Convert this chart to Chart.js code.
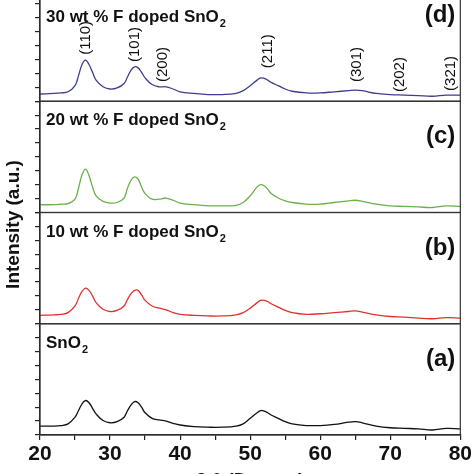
<!DOCTYPE html>
<html><head><meta charset="utf-8">
<script src="https://cdn.jsdelivr.net/npm/chart.js@4"></script>
<style>html,body{margin:0;padding:0;background:#fff;overflow:hidden}#w{position:absolute;top:-12px;left:0;width:474px;height:508px}</style>
</head><body><div id="w"><canvas id="c"></canvas></div>
<script>
const twoTheta=[20,22,23,24,25,25.5,26,26.5,27,27.5,28,29,30,31,32,32.5,33,33.5,34,34.5,35,36,37,38,39,40,42,44,46,48,49,50,51,51.5,52,52.5,53,54,55,56,58,60,62,64,65,66,68,70,72,74,76,78,80];
const sno2=[.8,.8,.85,1.0,1.6,2.2,2.8,3.1,2.9,2.4,1.9,1.3,1.1,1.2,1.6,2.2,2.7,3.0,2.9,2.5,2.0,1.5,1.35,1.25,1.05,.9,.75,.7,.7,.8,1.0,1.5,2.0,2.2,2.15,2.0,1.8,1.5,1.2,1.0,.85,.85,.95,1.15,1.2,1.1,.8,.65,.6,.55,.45,.6,.55];
const f10=[.75,.8,.85,1.0,1.6,2.3,2.9,3.2,3.0,2.5,1.9,1.3,1.1,1.2,1.6,2.2,2.7,3.0,3.0,2.6,2.1,1.6,1.4,1.25,1.0,.85,.75,.7,.7,.8,1.0,1.4,1.9,2.1,2.1,2.0,1.8,1.5,1.2,1.0,.85,.9,1.0,1.1,1.15,1.05,.8,.65,.6,.5,.45,.55,.5];
const f20=[.7,.7,.75,.8,1.2,2.2,3.4,3.9,3.3,2.3,1.5,1.0,.85,.9,1.3,2.2,2.9,3.2,3.0,2.3,1.7,1.2,1.2,1.3,1.1,.85,.7,.6,.6,.65,.9,1.5,2.3,2.5,2.4,2.1,1.7,1.3,1.05,.9,.75,.75,.9,1.05,1.1,1.0,.75,.6,.55,.5,.45,.6,.55];
const f30=[.65,.7,.75,.85,1.4,2.3,3.3,3.7,3.3,2.6,1.9,1.3,1.1,1.2,1.6,2.2,2.8,3.1,3.0,2.6,2.1,1.5,1.3,1.3,1.1,.85,.7,.6,.6,.7,.95,1.4,1.9,2.1,2.05,1.9,1.7,1.4,1.1,.9,.75,.75,.85,.95,1.0,.95,.7,.6,.55,.5,.45,.55,.55];
const panelNames=["30 wt % F doped SnO","20 wt % F doped SnO","10 wt % F doped SnO","SnO"];
const panelTags=["(d)","(c)","(b)","(a)"];
const peakLabels=["(110)","(101)","(200)","(211)","(301)","(202)","(321)"];
const peakX=[26.5,33.6,37.6,52.5,65.2,71.3,78.6];
const peakY=[5.7,5.1,3.3,4.5,3.3,2.4,2.5];
const xTicks=[20,30,40,50,60,70,80];

const mk=(arr)=>arr.map((v,i)=>({x:twoTheta[i],y:v}));
const series=[f30,f20,f10,sno2];
const colors=["#3d3d8f","#6ab04c","#e0322d","#111111"];
const axisIds=["yd","yc","yb","ya"];
const scales={x:{type:'linear',min:20,max:80,afterBuildTicks:s=>{s.ticks=[];for(let v=20;v<=80;v+=5)s.ticks.push({value:v});},
  ticks:{callback:v=>xTicks.includes(v)?v:'',color:'#111',font:{family:'Liberation Sans',size:21,weight:'bold'},maxRotation:0,padding:2,autoSkip:false},
  grid:{drawOnChartArea:false,color:'#222',tickLength:5,lineWidth:1.2},border:{color:'#222',width:1.2},
  title:{display:true,text:'2 θ (Degree)',color:'#111',font:{family:'Liberation Sans',size:19,weight:'bold'},padding:{top:0}}}};
axisIds.slice().reverse().forEach((id)=>{scales[id]={type:'linear',min:0,max:10,stack:'p',stackWeight:1,offset:false,position:'left',
  ticks:{display:false,stepSize:1.25},grid:{drawOnChartArea:false,color:'#222',tickLength:5,lineWidth:1.2},border:{color:'#222',width:1.2}};});
const labelPlugin={id:'lbl',afterDraw(ch){const c=ch.ctx,xs=ch.scales.x,a=ch.chartArea;c.save();
  axisIds.forEach((id,k)=>{const s=ch.scales[id];c.strokeStyle='#333';c.lineWidth=1.2;c.strokeRect(a.left,s.top,a.right-a.left,s.bottom-s.top);
    c.fillStyle='#111';c.textBaseline='alphabetic';c.textAlign='left';c.font='bold 17px "Liberation Sans"';
    const ty=s.top+ (k===0?32:24);c.fillText(panelNames[k],a.left+6,ty);const w=c.measureText(panelNames[k]).width;
    c.font='bold 11px "Liberation Sans"';c.fillText('2',a.left+6+w+1,ty+5);
    c.font='bold 24px "Liberation Sans"';c.textAlign='right';c.fillText(panelTags[k],a.right-5,s.top+(k===0?32:42));});
  const sd=ch.scales.yd;c.font='15px "Liberation Sans"';c.textAlign='center';c.textBaseline='middle';
  peakLabels.forEach((t,i)=>{c.save();c.translate(xs.getPixelForValue(peakX[i]),sd.getPixelForValue(peakY[i]));c.rotate(-Math.PI/2);c.fillText(t,0,0);c.restore();});
  c.font='bold 19px "Liberation Sans"';c.save();c.translate(14,(ch.scales.yd.top+ch.scales.ya.bottom)/2+12);c.rotate(-Math.PI/2);c.fillText('Intensity (a.u.)',0,0);c.restore();
  c.restore();}};
new Chart(document.getElementById('c'),{type:'line',
  data:{datasets:series.map((s,k)=>({data:mk(s),yAxisID:axisIds[k],borderColor:colors[k],borderWidth:1.3,pointRadius:0,tension:0.4,fill:false}))},
  options:{responsive:true,maintainAspectRatio:false,animation:false,plugins:{legend:{display:false},tooltip:{enabled:false}},
    layout:{padding:{left:35,right:12,top:2,bottom:0}},scales},plugins:[labelPlugin]});
</script></body></html>
